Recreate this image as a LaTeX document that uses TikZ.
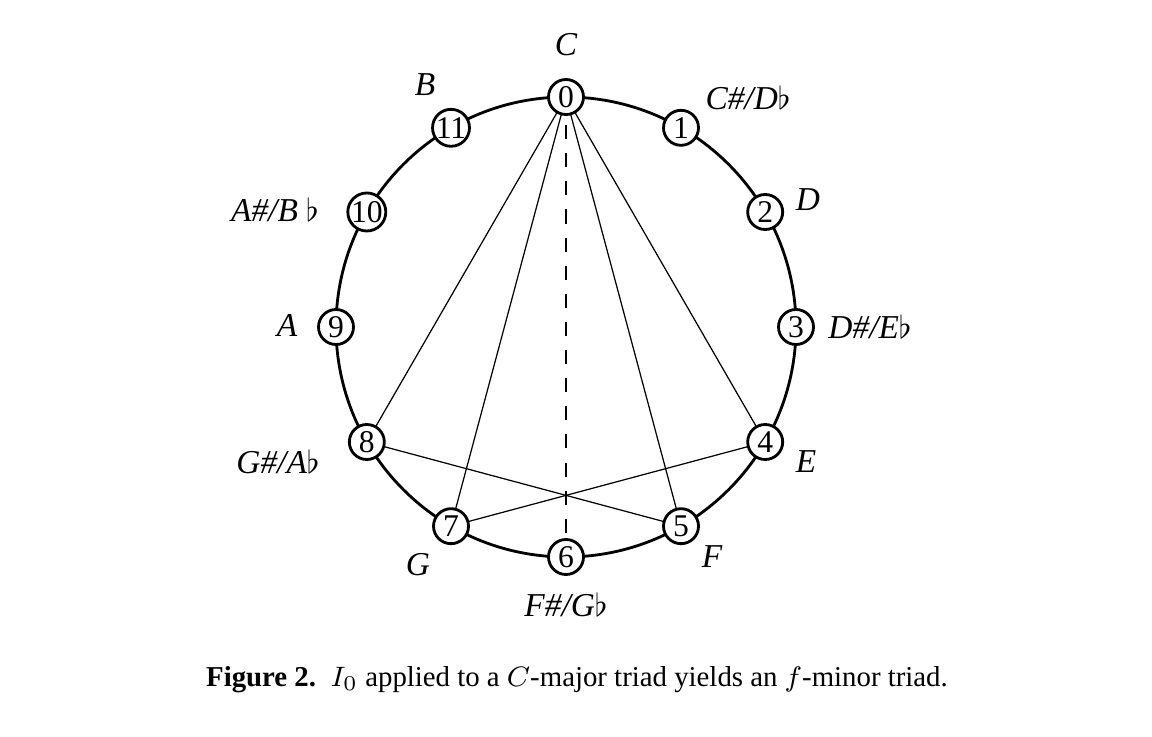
\documentclass[tikz,border=0pt]{standalone}
\usepackage{fontspec}
\setmainfont{Liberation Serif}
\usetikzlibrary{positioning,calc}
\tikzset{
  pc/.style={circle,draw,line width=0.8pt,fill=white,inner sep=0pt,minimum size=0.35cm,font=\fontsize{9}{10}\selectfont},
  nm/.style={font=\fontsize{9.5}{11}\selectfont\itshape},
  chord/.style={line width=0.35pt}
}
\begin{document}
\begin{tikzpicture}
\useasboundingbox (0,0) rectangle (11.52,7.36);
\coordinate (ctr) at (5.66,4.09);
\draw[line width=0.8pt] (ctr) circle (2.30);
% pitch classes
\foreach \k in {0,...,11}
  \coordinate (p\k) at ($(ctr)+({90-30*\k}:2.30)$);
% chords
\draw[chord,dash pattern=on 4pt off 4pt] (p0) -- (p6);
\draw[chord] (p0) -- (p8);
\draw[chord] (p0) -- (p7);
\draw[chord] (p0) -- (p5);
\draw[chord] (p0) -- (p4);
\draw[chord] (p8) -- (p5);
\draw[chord] (p7) -- (p4);
\foreach \k in {0,...,11}
  \node[pc] (n\k) at (p\k) {\k};
% note names
\node[nm] (lC) at (5.66,6.91) {C};
\node[nm] (lB) at (4.25,6.51) {B};
\node[nm] (lCs) at (7.48,6.38) {C\#/D$\flat$};
\node[nm] (lAs) at (2.75,5.26) {A\#/B $\flat$};
\node[nm] (lD) at (8.08,5.36) {D};
\node[nm] (lA) at (2.87,4.11) {A};
\node[nm] (lDs) at (8.70,4.09) {D\#/E$\flat$};
\node[nm] (lGs) at (2.78,2.74) {G\#/A$\flat$};
\node[nm] (lE) at (8.06,2.74) {E};
\node[nm] (lG) at (4.18,1.71) {G};
\node[nm] (lF) at (7.12,1.79) {F};
\node[nm] (lFs) at (5.66,1.31) {F\#/G$\flat$};
% caption
\node[font=\fontsize{8.2}{10}\selectfont] (cap) at (5.77,0.56)
  {\textbf{Figure 2.}\ \ $I_0$ applied to a $C$-major triad yields an $f$-minor triad.};
\end{tikzpicture}
\end{document}
